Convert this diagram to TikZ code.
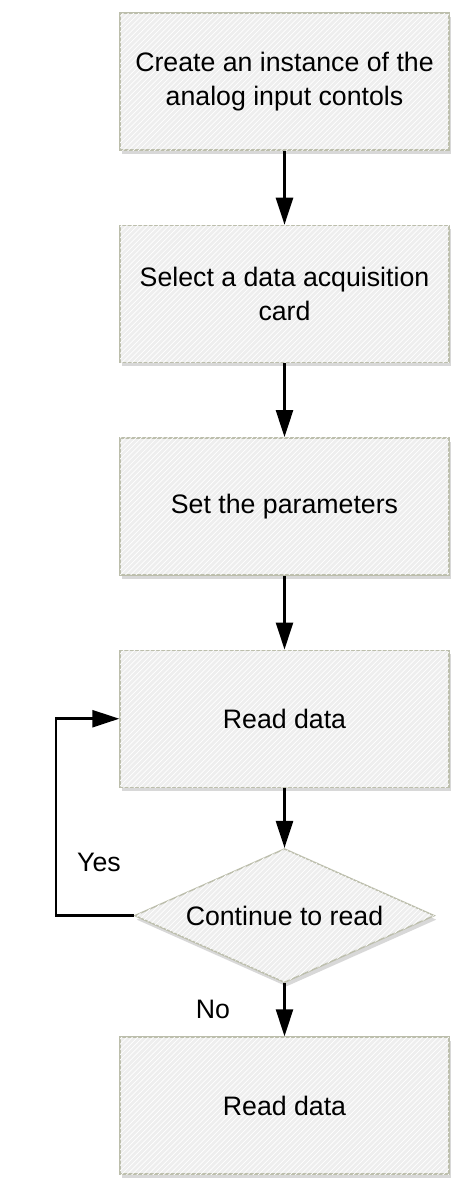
\documentclass[tikz,border=0pt]{standalone}
\usepackage{fontspec}
\setmainfont{Liberation Sans}
\usetikzlibrary{positioning, shapes.geometric, arrows.meta, shadows, patterns}

\definecolor{boxline}{RGB}{188,190,172}
\definecolor{boxfill}{RGB}{238,238,238}

\begin{document}
\begin{tikzpicture}[
    font=\fontsize{15.2}{19.8}\selectfont,
    node distance=1.48cm,
    stepbox/.style={draw=boxline, line width=0.8pt, fill=boxfill,
      minimum width=6.58cm, minimum height=2.74cm, align=center,
      drop shadow={shadow xshift=0.04cm, shadow yshift=-0.08cm, fill=gray!60, opacity=0.5},
      postaction={pattern=north east lines, pattern color=white}},
    choice/.style={diamond, aspect=2.24, draw=boxline, line width=0.8pt, fill=boxfill,
      minimum width=6cm, minimum height=2.68cm, inner sep=0pt, align=center,
      drop shadow={shadow xshift=0.04cm, shadow yshift=-0.08cm, fill=gray!60, opacity=0.5},
      postaction={pattern=north east lines, pattern color=white}},
    flow/.style={line width=1.4pt, -{Triangle[length=5.4mm, width=3.4mm]}}
  ]
  \useasboundingbox (0, 0) rectangle (9.32, -23.92);

  % boxes
  \node[stepbox] (create) at (5.69, -1.63) {Create an instance of the\\analog input contols};
  \node[stepbox, below=of create] (select) {Select a data acquisition\\card};
  \node[stepbox, below=of select] (params) {Set the parameters};
  \node[stepbox, below=of params] (read) {Read data};
  \node[choice, below=1.2cm of read] (cont) {Continue to read};
  \node[stepbox, below=1.06cm of cont] (readend) {Read data};

  % loop back
  \coordinate (loopx) at (1.12, 0);

  % arrows
  \draw[flow] (create) -- (select);
  \draw[flow] (select) -- (params);
  \draw[flow] (params) -- (read);
  \draw[flow] (read) -- (cont);
  \draw[flow] (cont) -- (readend);
  \draw[flow] (cont.west) -- (cont.west -| loopx) |- (read.west);

  % labels
  \node (yes) at (1.98, -17.24) {Yes};
  \node (no) at (4.26, -20.18) {No};
\end{tikzpicture}
\end{document}
